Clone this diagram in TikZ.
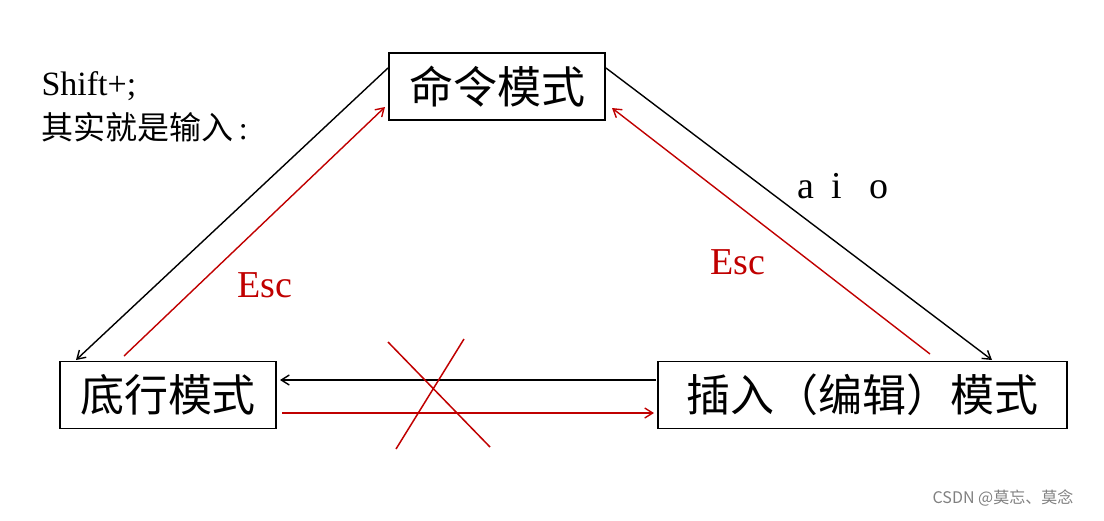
\documentclass[tikz,border=0pt]{standalone}
\usepackage{fontspec}
\setmainfont{Liberation Serif}
\newfontfamily\cjk{Noto Sans CJK SC}
\usetikzlibrary{arrows.meta}
\definecolor{dred}{RGB}{192,0,0}
\tikzset{
  box/.style={draw,line width=1.5pt,minimum height=67pt,inner sep=0pt,font=\cjk\fontsize{44}{48}\selectfont},
  conn/.style={-{Straight Barb[length=8pt,width=10pt]},line width=1.4pt},
  rconn/.style={conn,dred},
  lab/.style={font=\fontsize{38}{42}\selectfont}
}
\begin{document}
\begin{tikzpicture}[x=1pt,y=-1pt]
\useasboundingbox (0,0) rectangle (1104,520);
\node[box,minimum width=216pt] (cmd) at (497,86.5) {命令模式};
\node[box,minimum width=216pt] (bot) at (168,395) {底行模式};
\node[box,minimum width=409pt] (ins) at (862.5,395) {插入（编辑）模式};
\coordinate (c1) at (388,68); \coordinate (b1) at (76,360);
\coordinate (b2) at (124,356); \coordinate (c2) at (385,107);
\coordinate (c3) at (606,68); \coordinate (i1) at (992,360);
\coordinate (i2) at (930,354); \coordinate (c4) at (612,108);
\coordinate (i3) at (656,380); \coordinate (b3) at (280,380);
\coordinate (b4) at (282,413); \coordinate (i4) at (654,413);
\draw[conn] (c1) -- (b1);
\draw[rconn] (b2) -- (c2);
\draw[conn] (c3) -- (i1);
\draw[rconn] (i2) -- (c4);
\draw[conn] (i3) -- (b3);
\draw[rconn] (b4) -- (i4);
\coordinate (x1) at (388,342); \coordinate (x2) at (490,447);
\coordinate (x3) at (464,339); \coordinate (x4) at (396,449);
\draw[dred,line width=1.5pt] (x1) -- (x2) (x3) -- (x4);
\node[anchor=west,font=\fontsize{34}{38}\selectfont] (t1) at (38,86) {Shift+;};
\node[anchor=west,font=\cjk\fontsize{32}{36}\selectfont] (t2) at (38,127) {其实就是输入\rmfamily\,:};
\node[lab,dred] (e1) at (265,285) {Esc};
\node[lab,dred] (e2) at (738,262) {Esc};
\node[lab] (aio) at (843,186) {a\;\,i\;\;\,o};
\node[text=gray,font=\cjk\fontsize{16}{18}\selectfont] (wm) at (1003,498) {CSDN @莫忘、莫念};
\end{tikzpicture}
\end{document}
